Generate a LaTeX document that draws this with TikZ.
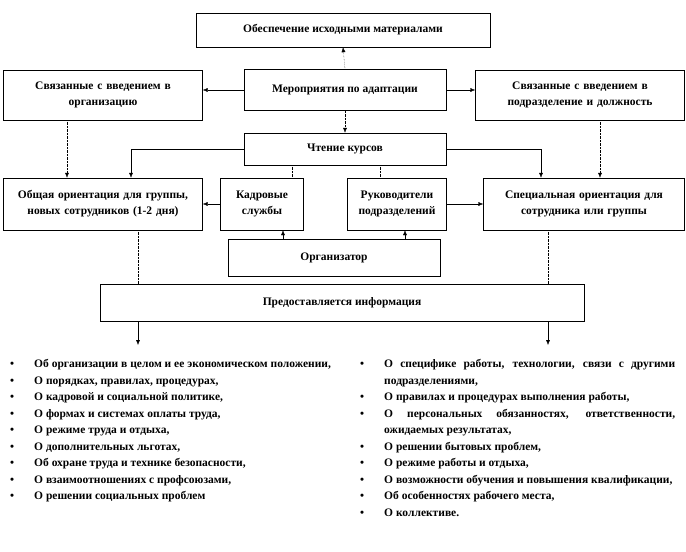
\documentclass[tikz,border=0pt]{standalone}
\usepackage{fontspec}
\setmainfont{Liberation Serif}
\usetikzlibrary{arrows.meta}

\tikzset{
	blk/.style={draw, thin, align=center, font=\bfseries\fontsize{11.5}{16}\selectfont, inner sep=1pt},
	arr/.style={-{Latex[length=5pt,width=4pt]}},
	dotarr/.style={densely dotted, -{Latex[length=5pt,width=4pt]}}
}
\newcommand{\listfont}{\bfseries\fontsize{11.5}{16.5}\selectfont}
\newcommand{\itm}[1]{\par\noindent\hspace{-24pt}\makebox[24pt][l]{\textbullet}#1}

\begin{document}
\begin{tikzpicture}[x=1pt,y=-1pt]
	\useasboundingbox (0,0) rectangle (686,552);

	% boxes
	\node[blk, minimum width=294, minimum height=34] (mat) at (343,30) {Обеспечение исходными материалами};
	\node[blk, minimum width=202, minimum height=41] (adapt) at (345,90) {Мероприятия по адаптации};
	\node[blk, minimum width=199, minimum height=50, text width=194] (org) at (103,95) {Связанные с введением в\\организацию};
	\node[blk, minimum width=209, minimum height=50, text width=205] (dep) at (580,95) {Связанные с введением в\\подразделение и должность};
	\node[blk, minimum width=202, minimum height=32] (read) at (345,149) {Чтение курсов};
	\node[blk, minimum width=199, minimum height=52, text width=196] (gen) at (103,204) {Общая ориентация для группы,\\новых сотрудников (1-2 дня)};
	\node[blk, minimum width=83, minimum height=52] (hr) at (262,204) {Кадровые\\службы};
	\node[blk, minimum width=99, minimum height=52] (head) at (397,204) {Руководители\\подразделений};
	\node[blk, minimum width=201, minimum height=52, text width=198] (spec) at (584,204) {Специальная ориентация для\\сотрудника или группы};
	\node[blk, minimum width=212, minimum height=37] (orgr) at (334,258) {Организатор};
	\node[blk, minimum width=484, minimum height=37] (info) at (342,303) {Предоставляется информация};

	% connectors
	\draw[dotarr] (adapt.north) -- (mat.south);
	\draw[dotarr] (adapt.south) -- (read.north);
	\draw[arr] (adapt.west) -- (org.east |- adapt.west);
	\draw[arr] (adapt.east) -- (dep.west |- adapt.east);
	\draw[dotarr] (org.south -| 67,0) -- (gen.north -| 67,0);
	\draw[dotarr] (dep.south -| 600,0) -- (spec.north -| 600,0);
	\draw[arr] (read.west) -| (gen.north -| 131,0);
	\draw[arr] (read.east) -| (spec.north -| 541,0);
	\draw[densely dotted] (read.south -| 292,0) -- (hr.north -| 292,0);
	\draw[densely dotted] (read.south -| 380,0) -- (head.north -| 380,0);
	\draw[arr] (hr.west) -- (gen.east);
	\draw[arr] (head.east) -- (spec.west);
	\draw[arr] (orgr.north -| 283,0) -- (hr.south -| 283,0);
	\draw[arr] (orgr.north -| 405,0) -- (head.south -| 405,0);
	\draw[densely dotted] (gen.south -| 138,0) -- (info.north -| 138,0);
	\draw[densely dotted] (spec.south -| 548,0) -- (info.north -| 548,0);
	\coordinate (la) at (138,345);
	\coordinate (ra) at (548,345);
	\draw[arr] (info.south -| la) -- (la);
	\draw[arr] (info.south -| ra) -- (ra);

	% lists
	\node[anchor=north west, inner sep=0pt, text width=322, align=justify] (lleft) at (10,351) {\listfont\leftskip=24pt
		\itm{Об организации в целом и ее экономическом положении,}
		\itm{О порядках, правилах, процедурах,}
		\itm{О кадровой и социальной политике,}
		\itm{О формах и системах оплаты труда,}
		\itm{О режиме труда и отдыха,}
		\itm{О дополнительных льготах,}
		\itm{Об охране труда и технике безопасности,}
		\itm{О взаимоотношениях с профсоюзами,}
		\itm{О решении социальных проблем}\par};
	\node[anchor=north west, inner sep=0pt, text width=315, align=justify] (lright) at (360,351) {\listfont\leftskip=24pt
		\itm{О специфике работы, технологии, связи с другими подразделениями,}
		\itm{О правилах и процедурах выполнения работы,}
		\itm{О персональных обязанностях, ответственности, ожидаемых результатах,}
		\itm{О решении бытовых проблем,}
		\itm{О режиме работы и отдыха,}
		\itm{О возможности обучения и повышения квалификации,}
		\itm{Об особенностях рабочего места,}
		\itm{О коллективе.}\par};
\end{tikzpicture}
\end{document}
